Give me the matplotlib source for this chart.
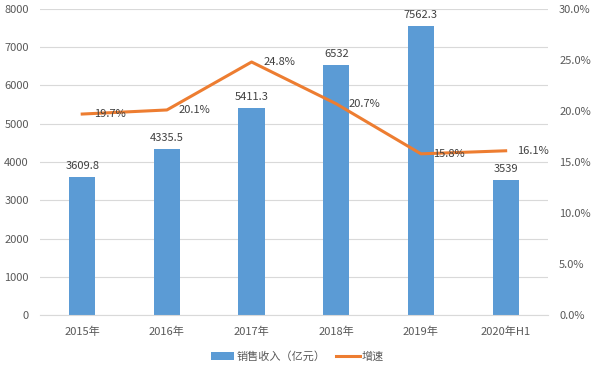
import matplotlib
matplotlib.use('Agg')
import matplotlib.pyplot as plt
import numpy as np

plt.rcParams['font.family'] = ['Noto Sans CJK SC', 'DejaVu Sans']

categories = ['2015年', '2016年', '2017年', '2018年', '2019年', '2020年H1']
revenue = [3609.8, 4335.5, 5411.3, 6532, 7562.3, 3539]
growth = [19.7, 20.1, 24.8, 20.7, 15.8, 16.1]
revenue_labels = ['3609.8', '4335.5', '5411.3', '6532', '7562.3', '3539']

grey = '#595959'
fig = plt.figure(figsize=(5.95, 3.72), dpi=100)
ax = fig.add_axes([0.067, 0.153, 0.854, 0.823])
ax2 = ax.twinx()

x = np.arange(len(categories))
bars = ax.bar(x, revenue, width=0.31, color='#5B9BD5', label='销售收入（亿元）', zorder=2)
line, = ax2.plot(x, growth, color='#ED7D31', lw=2.2, label='增速', zorder=3)

ax.set_ylim(0, 8000)
ax.set_yticks(range(0, 8001, 1000))
ax.set_xlim(-0.5, len(categories) - 0.5)
ax.set_xticks(x)
ax.set_xticklabels(categories)
ax2.set_ylim(0, 30)
ax2.set_yticks(range(0, 31, 5))
ax2.set_yticklabels([f'{v:.1f}%' for v in range(0, 31, 5)])

ax.grid(axis='y', color='#D9D9D9', lw=0.8, zorder=0)
for a in (ax, ax2):
    for s in a.spines.values():
        s.set_visible(False)
    a.tick_params(length=0, labelsize=8, colors=grey)
ax.spines['bottom'].set_visible(True)
ax.spines['bottom'].set_color('#D9D9D9')
ax.tick_params(axis='x', pad=8)
ax.tick_params(axis='y', pad=8)
ax2.tick_params(axis='y', pad=8)

ax.set_zorder(ax2.get_zorder() - 1)
ax.patch.set_visible(False)

for xi, v, lab in zip(x, revenue, revenue_labels):
    ax.text(xi, v + 150, lab, ha='center', va='bottom', fontsize=8, color='#404040')
for xi, g in zip(x, growth):
    ax2.text(xi + 0.14, g, f'{g}%', ha='left', va='center', fontsize=8, color='#404040')

fig.legend(handles=[bars, line], loc='lower center', bbox_to_anchor=(0.5, 0.0),
           ncol=2, frameon=False, fontsize=8, labelcolor=grey,
           handlelength=2.1, columnspacing=1.0, handletextpad=0.2)

fig.savefig('out.png', dpi=100)
